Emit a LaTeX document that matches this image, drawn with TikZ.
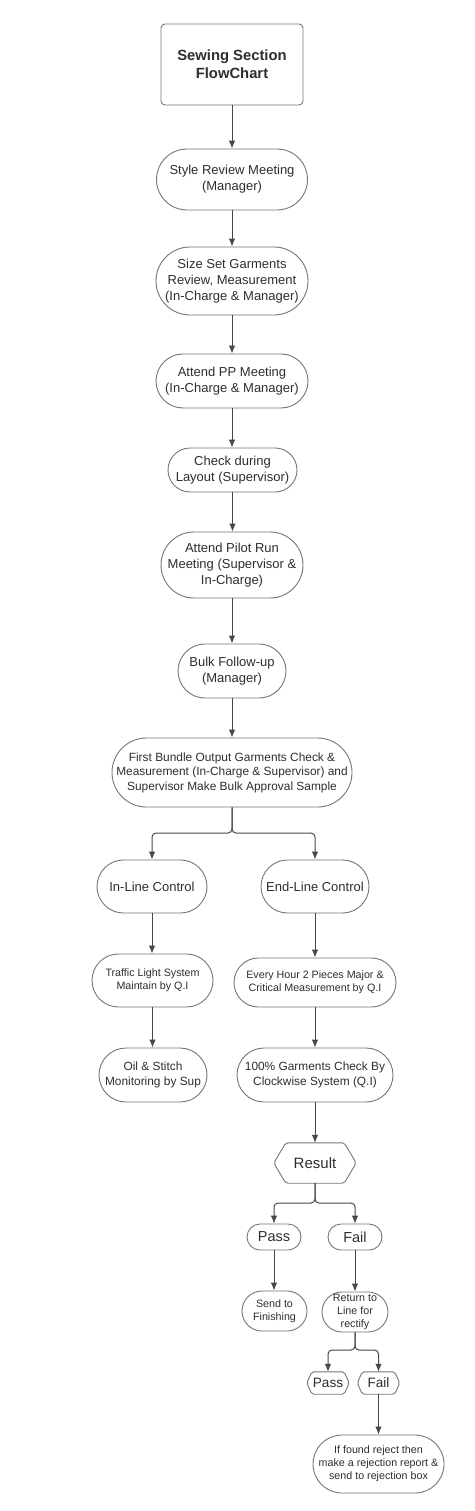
\documentclass[tikz,border=0pt]{standalone}
\usepackage{fontspec}
\setmainfont{Liberation Sans}
\usetikzlibrary{arrows.meta}
\definecolor{boxc}{HTML}{767676}
\definecolor{linec}{HTML}{474747}
\definecolor{txtc}{HTML}{2E2E2E}
\tikzset{
  base/.style={draw=boxc, line width=0.9pt, text=txtc, align=center, inner sep=0pt},
  plain/.style={text=txtc, align=center, inner sep=0pt},
  ttl/.style={font=\fontsize{14.8}{18.3}\selectfont\bfseries},
  tbig/.style={font=\fontsize{13}{16}\selectfont},
  tmid/.style={font=\fontsize{11.9}{14.5}\selectfont},
  tsml/.style={font=\fontsize{10.7}{12.8}\selectfont},
  arr/.style={draw=linec, line width=1pt, -{Latex[length=8pt,width=6.5pt]}, rounded corners=4pt},
  hexline/.style={draw=boxc, line width=0.9pt, rounded corners=2pt},
}
\begin{document}
\begin{tikzpicture}[x=1pt,y=-1pt]
\useasboundingbox[fill=white] (0,0) rectangle (474,1511);

% main column
\node[base, ttl, rounded corners=4pt, minimum width=142pt, minimum height=81pt] (title) at (232,64.5) {Sewing Section\\FlowChart};
\node[base, tbig, rounded corners=30.5pt, minimum width=151pt, minimum height=61pt] (style) at (232,179.5) {Style Review Meeting\\(Manager)};
\node[base, tbig, rounded corners=34pt, minimum width=152pt, minimum height=68pt] (size) at (232,281) {Size Set Garments\\Review, Measurement\\(In-Charge \& Manager)};
\node[base, tbig, rounded corners=27pt, minimum width=152pt, minimum height=54pt] (pp) at (232,381) {Attend PP Meeting\\(In-Charge \& Manager)};
\node[base, tbig, rounded corners=22pt, minimum width=129pt, minimum height=44pt] (check) at (232.5,470) {Check during\\Layout (Supervisor)};
\node[base, tbig, rounded corners=33pt, minimum width=142pt, minimum height=66pt] (pilot) at (232,565) {Attend Pilot Run\\Meeting (Supervisor \&\\In-Charge)};
\node[base, tbig, rounded corners=27pt, minimum width=108pt, minimum height=54pt] (bulk) at (232,671) {Bulk Follow-up\\(Manager)};
\node[base, tmid, rounded corners=34.5pt, minimum width=240pt, minimum height=69pt] (first) at (232,772.5) {First Bundle Output Garments Check \&\\Measurement (In-Charge \& Supervisor) and\\Supervisor Make Bulk Approval Sample};

% two branches
\node[base, tbig, rounded corners=26.5pt, minimum width=110pt, minimum height=53pt] (inl) at (152,886.5) {In-Line Control};
\node[base, tbig, rounded corners=26.5pt, minimum width=108pt, minimum height=53pt] (endl) at (315,886.5) {End-Line Control};
\node[base, tsml, rounded corners=26.5pt, minimum width=121pt, minimum height=53pt] (traffic) at (152.5,980.5) {Traffic Light System\\Maintain by Q.I};
\node[base, tsml, rounded corners=24.5pt, minimum width=162pt, minimum height=49pt] (every) at (315,982.5) {Every Hour 2 Pieces Major \&\\Critical Measurement by Q.I};
\node[base, tmid, rounded corners=27pt, minimum width=108pt, minimum height=54pt] (oil) at (153,1075) {Oil \& Stitch\\Monitoring by Sup};
\node[base, tmid, rounded corners=27pt, minimum width=156pt, minimum height=54pt] (hund) at (315,1075) {100\% Garments Check By\\Clockwise System (Q.I)};

% result
\node[plain, font=\fontsize{15}{18}\selectfont, minimum width=82pt, minimum height=40pt] (result) at (315,1163) {Result};
\draw[hexline] (result.west) -- ([xshift=12pt]result.north west) -- ([xshift=-12pt]result.north east) -- (result.east) -- ([xshift=-12pt]result.south east) -- ([xshift=12pt]result.south west) -- cycle;

\node[base, font=\fontsize{14.5}{17}\selectfont, rounded corners=13pt, minimum width=54pt, minimum height=26pt] (pass) at (274,1237) {Pass};
\node[base, font=\fontsize{14.5}{17}\selectfont, rounded corners=13pt, minimum width=54pt, minimum height=26pt] (fail) at (355,1237) {Fail};
\node[base, tsml, rounded corners=20pt, minimum width=65pt, minimum height=40pt] (send) at (274.5,1311) {Send to\\Finishing};
\node[base, tsml, rounded corners=20pt, minimum width=66pt, minimum height=40pt] (ret) at (355,1312) {Return to\\Line for\\rectify};

\node[plain, font=\fontsize{13.6}{16}\selectfont, minimum width=42pt, minimum height=22pt] (pass2) at (328,1383) {Pass};
\draw[hexline] (pass2.west) -- ([xshift=5pt]pass2.north west) -- ([xshift=-5pt]pass2.north east) -- (pass2.east) -- ([xshift=-5pt]pass2.south east) -- ([xshift=5pt]pass2.south west) -- cycle;
\node[plain, font=\fontsize{13.6}{16}\selectfont, minimum width=42pt, minimum height=22pt] (fail2) at (378.5,1383) {Fail};
\draw[hexline] (fail2.west) -- ([xshift=5pt]fail2.north west) -- ([xshift=-5pt]fail2.north east) -- (fail2.east) -- ([xshift=-5pt]fail2.south east) -- ([xshift=5pt]fail2.south west) -- cycle;

\node[base, tsml, rounded corners=29pt, minimum width=131pt, minimum height=58pt] (found) at (378.5,1464) {If found reject then\\make a rejection report \&\\send to rejection box};

% connectors
\draw[arr] (title) -- (style);
\draw[arr] (style) -- (size);
\draw[arr] (size) -- (pp);
\draw[arr] (pp.south) -- (pp.south |- check.north);
\draw[arr] (check.south) -- (check.south |- pilot.north);
\draw[arr] (pilot) -- (bulk);
\draw[arr] (bulk) -- (first);

\coordinate (s1) at (232,833);
\draw[arr] (first.south) -- (s1) -| (inl.north);
\draw[arr] (first.south) -- (s1) -| (endl.north);

\draw[arr] (inl.south) -- (inl.south |- traffic.north);
\draw[arr] (traffic.south) -- (traffic.south |- oil.north);
\draw[arr] (endl.south) -- (endl.south |- every.north);
\draw[arr] (every.south) -- (every.south |- hund.north);
\draw[arr] (hund.south) -- (hund.south |- result.north);

\coordinate (s2) at (315,1203);
\draw[arr] (result.south) -- (s2) -| (pass.north);
\draw[arr] (result.south) -- (s2) -| (fail.north);
\draw[arr] (pass.south) -- (pass.south |- send.north);
\draw[arr] (fail.south) -- (fail.south |- ret.north);

\coordinate (s3) at (355,1350);
\draw[arr] (ret.south) -- (s3) -| (pass2.north);
\draw[arr] (ret.south) -- (s3) -| (fail2.north);
\draw[arr] (fail2.south) -- (fail2.south |- found.north);
\end{tikzpicture}
\end{document}
